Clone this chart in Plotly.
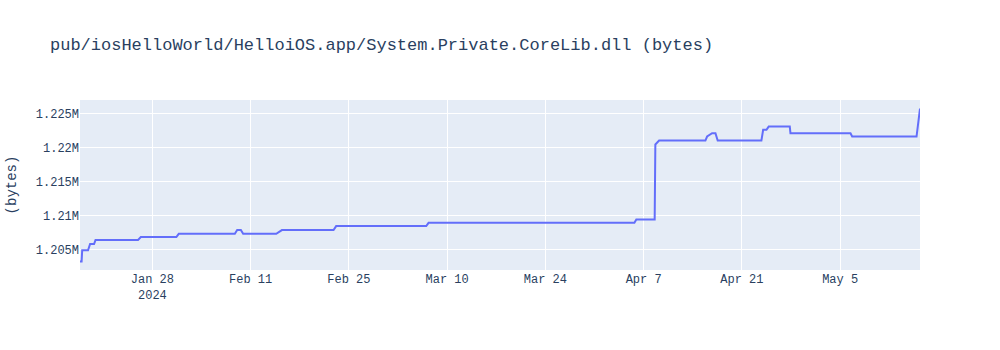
import plotly.graph_objects as go

title_text = "pub/iosHelloWorld/HelloiOS.app/System.Private.CoreLib.dll (bytes)"
y_title = "(bytes)"

dates = [
    "2024-01-17 16:30", "2024-01-17 22:00", "2024-01-18 00:00", "2024-01-18 20:00",
    "2024-01-19 03:00", "2024-01-19 16:30", "2024-01-19 21:30", "2024-01-25 23:00",
    "2024-01-26 08:30", "2024-01-31 10:00", "2024-01-31 18:15", "2024-02-08 18:00",
    "2024-02-09 02:00", "2024-02-09 14:30", "2024-02-09 22:30", "2024-02-14 15:30",
    "2024-02-15 11:00", "2024-02-22 19:30", "2024-02-23 04:30", "2024-03-07 00:30",
    "2024-03-07 08:30", "2024-04-05 16:20", "2024-04-05 23:00", "2024-04-08 13:40",
    "2024-04-08 16:00", "2024-04-09 04:50", "2024-04-15 19:10", "2024-04-16 01:00",
    "2024-04-16 18:10", "2024-04-17 05:30", "2024-04-17 13:10", "2024-04-23 18:40",
    "2024-04-24 00:40", "2024-04-24 12:00", "2024-04-24 19:40", "2024-04-27 19:40",
    "2024-04-27 22:00", "2024-05-06 11:20", "2024-05-06 17:00", "2024-05-15 21:10",
    "2024-05-16 09:00",
]
sizes = [
    1203200, 1203200, 1204850, 1204850,
    1205780, 1205780, 1206370, 1206370,
    1206810, 1206810, 1207290, 1207290,
    1207840, 1207840, 1207290, 1207290,
    1207840, 1207840, 1208430, 1208430,
    1208910, 1208910, 1209410, 1209410,
    1220490, 1221070, 1221070, 1221660,
    1222150, 1222150, 1221070, 1221070,
    1222650, 1222650, 1223130, 1223130,
    1222150, 1222150, 1221660, 1221660,
    1225800,
]

fig = go.Figure(
    go.Scatter(x=dates, y=sizes, mode="lines", line=dict(color="#636efa", width=2))
)
fig.update_layout(
    width=1000,
    height=350,
    title=dict(text=title_text),
    font=dict(family="Courier New, monospace"),
    yaxis=dict(title=dict(text=y_title)),
    template="plotly",
)
fig.write_html("out.html")
